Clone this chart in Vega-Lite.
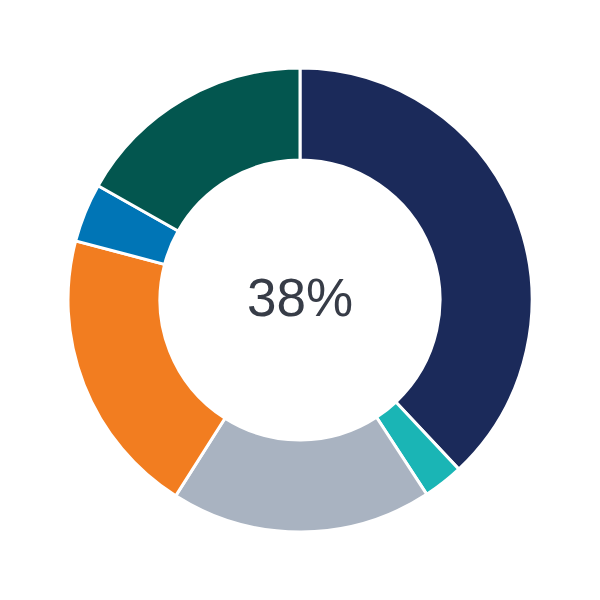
{
  "$schema": "https://vega.github.io/schema/vega-lite/v6.json",
  "width": 600,
  "height": 600,
  "autosize": {"type": "fit", "contains": "padding"},
  "background": "white",
  "view": {"stroke": null},
  "layer": [
    {
      "data": {
        "values": [
          {"category": "A", "value": 38, "order": 1},
          {"category": "B", "value": 2.8, "order": 2},
          {"category": "C", "value": 18.2, "order": 3},
          {"category": "D", "value": 20.1, "order": 4},
          {"category": "E", "value": 4.1, "order": 5},
          {"category": "F", "value": 16.8, "order": 6}
        ]
      },
      "mark": {"type": "arc", "outerRadius": 232, "innerRadius": 140, "stroke": "white", "strokeWidth": 3},
      "encoding": {
        "theta": {"field": "value", "type": "quantitative", "stack": true},
        "order": {"field": "order", "type": "quantitative"},
        "color": {
          "field": "category",
          "type": "nominal",
          "scale": {
            "domain": ["A", "B", "C", "D", "E", "F"],
            "range": ["#1b2a5a", "#1ab5b5", "#a9b3c1", "#f27d20", "#0075b6", "#03564f"]
          },
          "legend": null
        }
      }
    },
    {
      "data": {"values": [{"label": "38%"}]},
      "mark": {"type": "text", "fontSize": 53, "font": "Liberation Sans", "color": "#373c47", "align": "center", "baseline": "middle"},
      "encoding": {"text": {"field": "label", "type": "nominal"}}
    }
  ]
}
